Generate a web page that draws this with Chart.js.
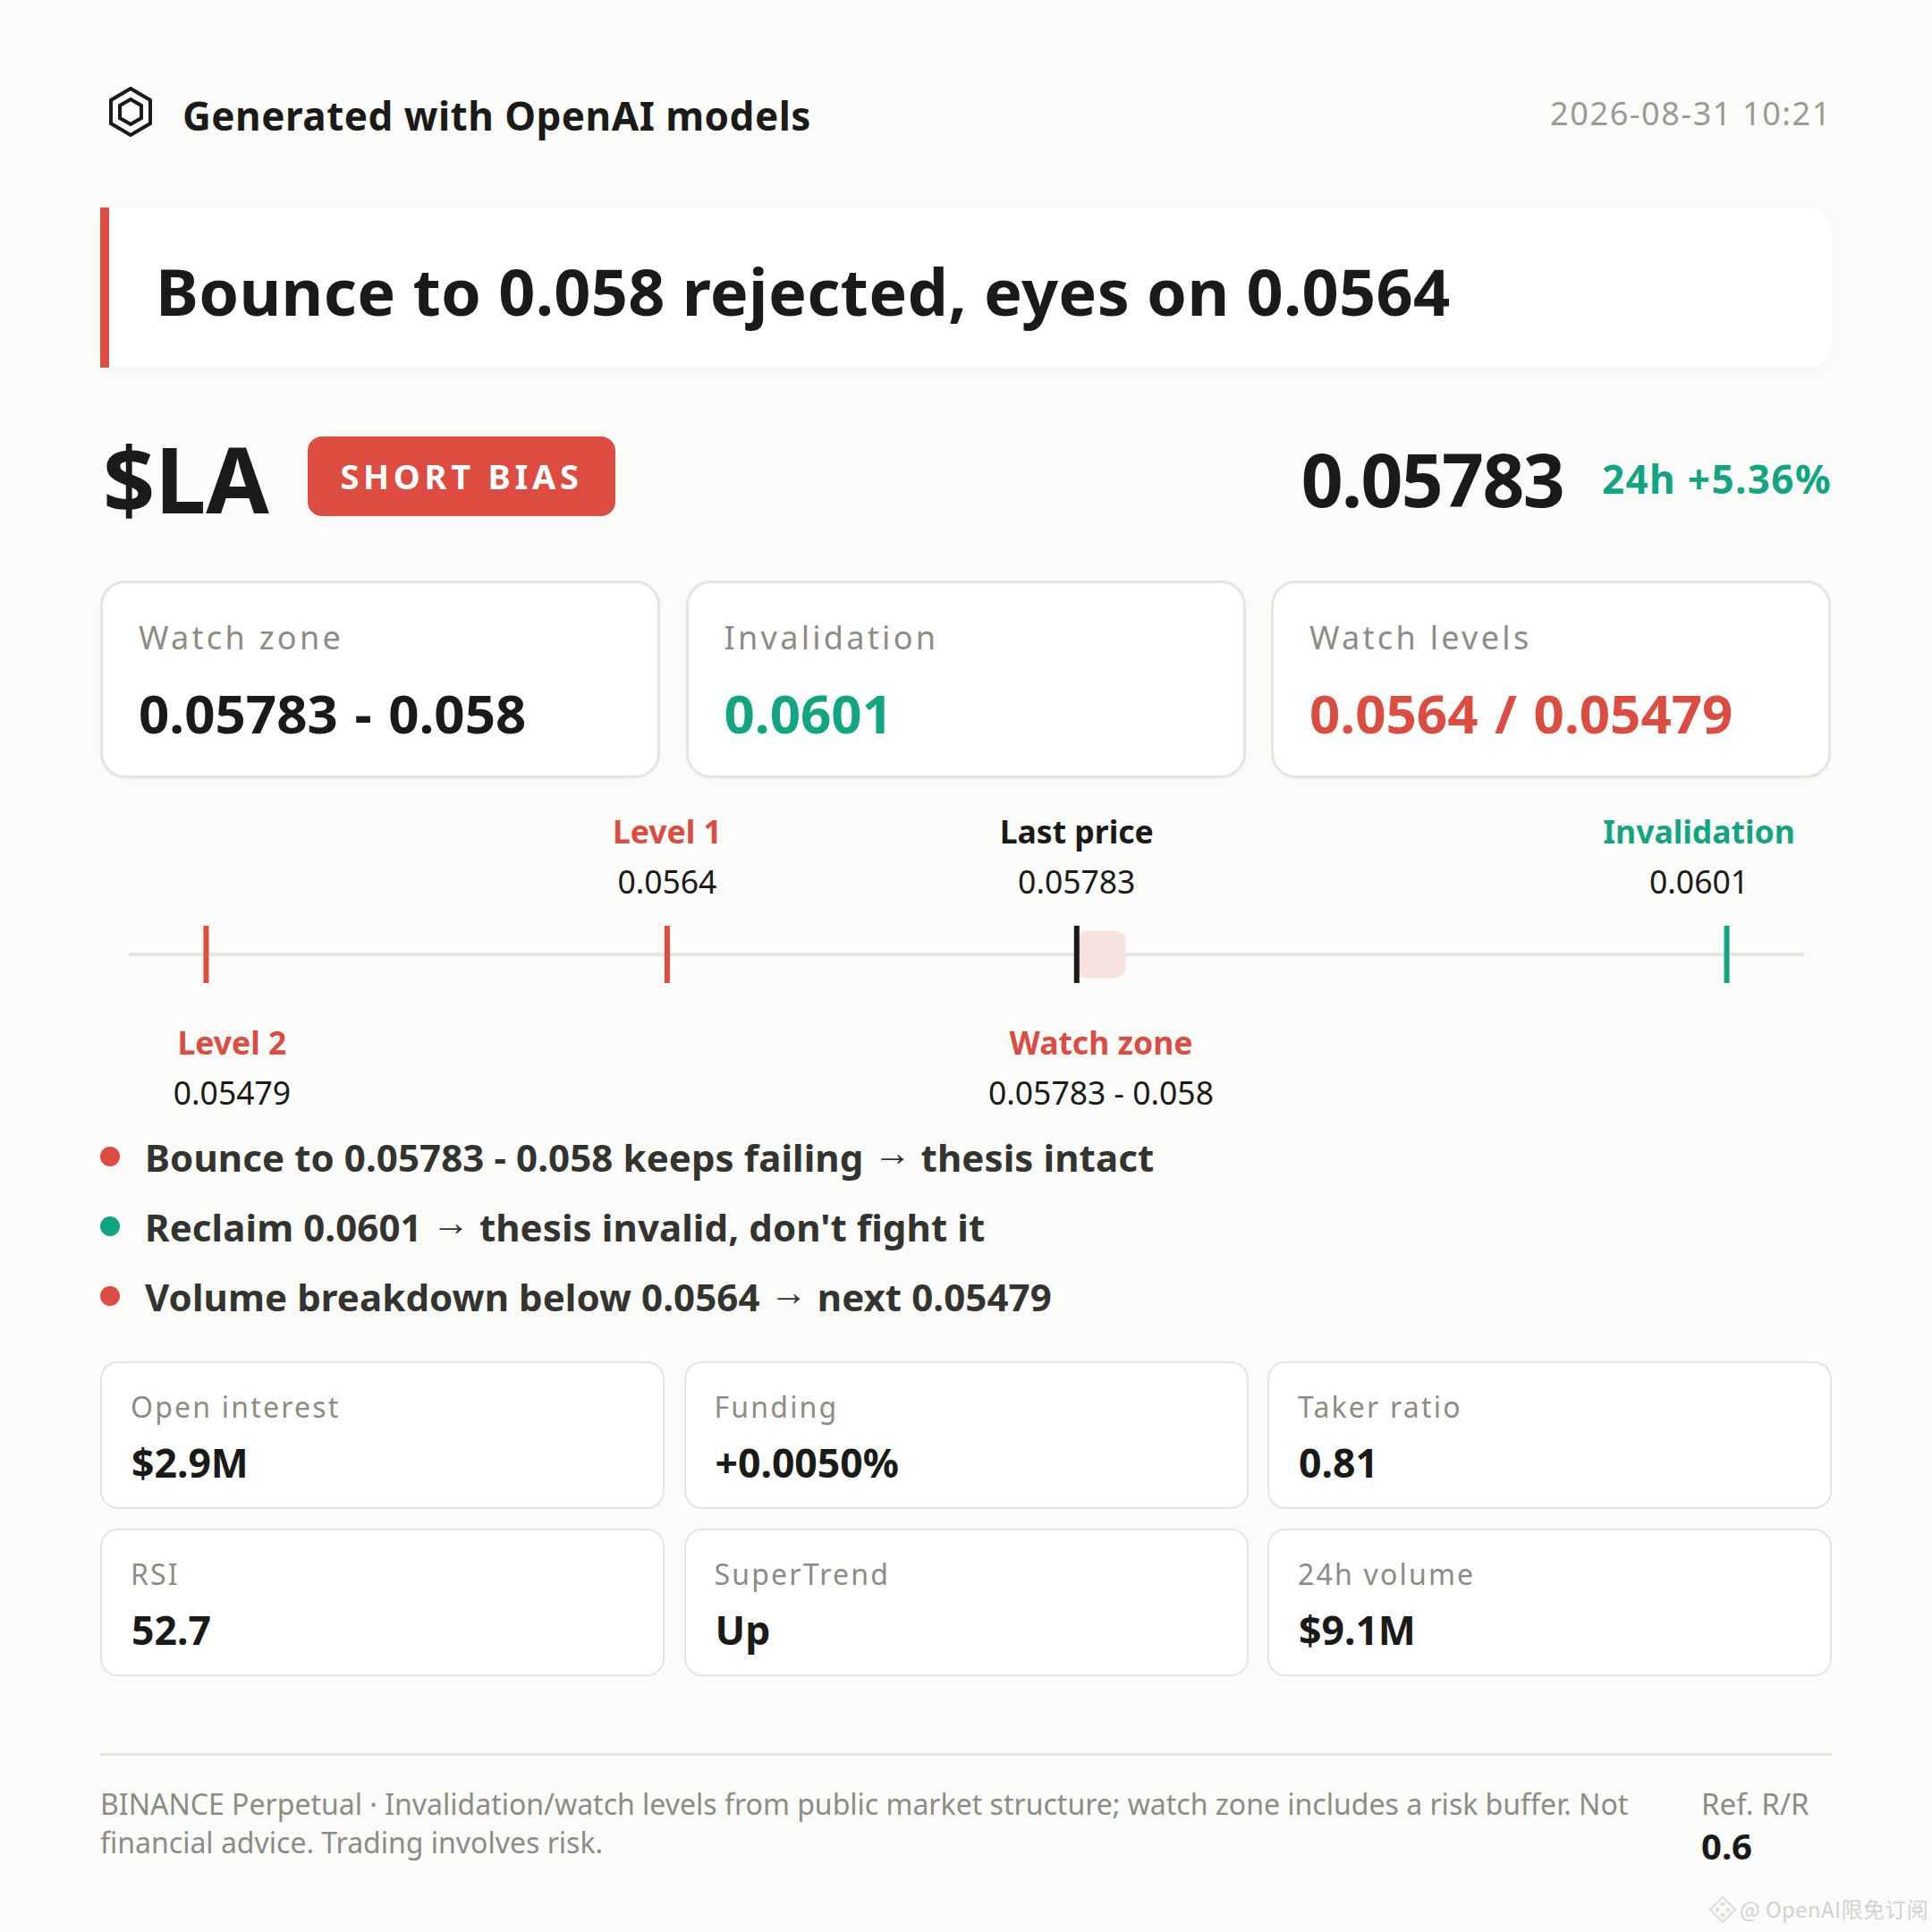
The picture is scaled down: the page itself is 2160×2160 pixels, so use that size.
<!DOCTYPE html>
<html>
<head>
<meta charset="utf-8">
<title>$LA short bias</title>
<script src="https://cdn.jsdelivr.net/npm/chart.js@4"></script>
<style>
    html, body { margin: 0; padding: 0; background: #fbfbf9; }
    body { width: 2160px; height: 2160px; position: relative; overflow: hidden; font-family: "Noto Sans", sans-serif; color: #1a1a18; }
    .abs { position: absolute; white-space: nowrap; }
    .b { font-weight: 700; }
    .card { position: absolute; box-sizing: border-box; background: #fff; }
    .big { width: 626px; height: 221px; top: 649px; border: 3px solid #e5e5e0; border-radius: 28px; box-shadow: 0 2px 8px rgba(0,0,0,.02); }
    .small { width: 631px; height: 165px; border: 2px solid #e5e5e0; border-radius: 20px; }
    .big .lab { position: absolute; left: 40px; top: 36px; line-height: 50px; font-size: 36px; letter-spacing: 3.3px; color: #8c8c85; white-space: nowrap; }
    .big .val { position: absolute; left: 40px; top: 100px; line-height: 90px; font-size: 60px; font-weight: 700; word-spacing: 3px; white-space: nowrap; }
    .small .lab { position: absolute; left: 32px; top: 27px; line-height: 44px; font-size: 32px; letter-spacing: 2.2px; color: #8c8c85; white-space: nowrap; }
    .small .val { position: absolute; left: 33px; top: 78px; line-height: 66px; font-size: 44.5px; font-weight: 700; white-space: nowrap; }
    .dot { position: absolute; left: 112px; width: 22px; height: 22px; border-radius: 50%; }
    .bullet { position: absolute; left: 162px; line-height: 60px; font-size: 42px; font-weight: 700; letter-spacing: .1px; color: #333330; white-space: nowrap; }
    .bullet .arr { position: relative; top: -7px; }
    .tag { position: absolute; text-align: center; transform: translateX(-50%); white-space: nowrap; font-size: 35.5px; line-height: 56px; }
    .tag .n { font-weight: 700; }
    #rulerWrap { position: absolute; left: 144px; top: 1020px; width: 1873px; height: 94px; }
</style>
</head>
<body>
<!-- header -->
<svg class="abs" style="left:120px;top:97px" width="52" height="56" viewBox="0 0 52 56">
    <path d="M26 2 L48 15 L48 41 L26 54 L4 41 L4 15 Z" fill="none" stroke="#1a1a18" stroke-width="4"/>
    <path d="M26 14 L38 21 L38 35 L26 42 L14 35 L14 21 Z" fill="none" stroke="#1a1a18" stroke-width="4"/>
</svg>
<div class="abs b" style="left:204px;top:99px;line-height:60px;font-size:44px;letter-spacing:.5px">Generated with OpenAI models</div>
<div class="abs" style="right:112px;top:100px;line-height:54px;font-size:36px;letter-spacing:1.6px;color:#9a9a93">2026-08-31 10:21</div>

<!-- headline -->
<div class="card" style="left:112px;top:232px;width:1936px;height:179px;border-left:10px solid #dc4c41;border-radius:0 28px 28px 0;box-shadow:0 4px 20px rgba(0,0,0,.03)"></div>
<div class="abs b" style="left:174px;top:275px;line-height:100px;font-size:72px;letter-spacing:.3px">Bounce to 0.058 rejected, eyes on 0.0564</div>

<!-- ticker row -->
<div class="abs b" style="left:115px;top:465px;line-height:140px;font-size:102px">$LA</div>
<div class="abs b" style="left:344px;top:488px;width:344px;height:89px;line-height:89px;background:#dc4c41;border-radius:16px;color:#fff;text-align:center;font-size:38px;letter-spacing:4.7px">SHORT BIAS</div>
<div class="abs b" style="right:412px;top:480px;line-height:110px;font-size:82px;letter-spacing:-1.6px">0.05783</div>
<div class="abs b" style="right:112px;top:505px;line-height:60px;font-size:44px;letter-spacing:1.4px;color:#12a582">24h +5.36%</div>

<div id="bigCards"></div>

<!-- price ruler -->
<div id="rulerWrap"><canvas id="ruler" width="1873" height="94"></canvas></div>
<div id="tags"></div>

<div id="bullets"></div>
<div id="metrics"></div>

<!-- footer -->
<div class="abs" style="left:112px;top:1960px;width:1936px;height:3px;background:#e5e5e0"></div>
<div class="abs" style="left:112px;top:1995px;line-height:43px;font-size:32px;color:#8c8c85">BINANCE Perpetual · Invalidation/watch levels from public market structure; watch zone includes a risk buffer. Not<br>financial advice. Trading involves risk.</div>
<div class="abs" style="left:1902px;top:1995px;line-height:43px;font-size:33px;color:#8c8c85">Ref. R/R</div>
<div class="abs b" style="left:1902px;top:2036px;line-height:56px;font-size:40px">0.6</div>
<div class="abs" style="left:1945px;top:2116px;line-height:36px;font-size:24px;letter-spacing:.4px;color:#d2d2ce;font-family:'Noto Sans CJK SC','Noto Sans',sans-serif">@ OpenAI限免订阅</div>
<svg class="abs" style="left:1911px;top:2120px" width="30" height="30" viewBox="0 0 30 30">
    <path d="M15 1 L29 15 L15 29 L1 15 Z" fill="none" stroke="#dcdcd8" stroke-width="2"/>
    <path d="M15 6 L18 9 L15 12 L12 9 Z M15 18 L18 21 L15 24 L12 21 Z M9 12 L12 15 L9 18 L6 15 Z M21 12 L24 15 L21 18 L18 15 Z" fill="#dcdcd8"/>
</svg>

<script>
const RED = '#dc4c41';
const GREEN = '#12a582';
const DARK = '#1a1a18';

// summary cards
const bigLabels = ['Watch zone', 'Invalidation', 'Watch levels'];
const bigValues = ['0.05783 - 0.058', '0.0601', '0.0564 / 0.05479'];
const bigColors = [DARK, GREEN, RED];

// price ruler
const markerNames = ['Level 2', 'Level 1', 'Last price', 'Invalidation'];
const markerValues = [0.05479, 0.0564, 0.05783, 0.0601];
const markerLabels = ['0.05479', '0.0564', '0.05783', '0.0601'];
const markerColors = [RED, RED, DARK, GREEN];
const watchZone = [0.05783, 0.058];
const watchZoneLabel = '0.05783 - 0.058';
const rulerRange = [0.05452, 0.06037];

// bullets
const bulletTexts = [
    'Bounce to 0.05783 - 0.058 keeps failing → thesis intact',
    'Reclaim 0.0601 → thesis invalid, don\'t fight it',
    'Volume breakdown below 0.0564 → next 0.05479'
];
const bulletColors = [RED, GREEN, RED];

// metric cards
const metricLabels = ['Open interest', 'Funding', 'Taker ratio', 'RSI', 'SuperTrend', '24h volume'];
const metricValues = ['$2.9M', '+0.0050%', '0.81', '52.7', 'Up', '$9.1M'];

let html = '';
bigLabels.forEach(function (label, i) {
    html += '<div class="card big" style="left:' + (112 + i * 654.5) + 'px"><div class="lab">' + label + '</div>' +
        '<div class="val" style="color:' + bigColors[i] + '">' + bigValues[i] + '</div></div>';
});
document.getElementById('bigCards').innerHTML = html;

html = '';
bulletTexts.forEach(function (text, i) {
    const top = 1264 + i * 78;
    html += '<div class="dot" style="top:' + (top + 18) + 'px;background:' + bulletColors[i] + '"></div>' +
        '<div class="bullet" style="top:' + top + 'px">' + text.replace('→', '<span class="arr">→</span>') + '</div>';
});
document.getElementById('bullets').innerHTML = html;

html = '';
metricLabels.forEach(function (label, i) {
    const col = i % 3, row = Math.floor(i / 3);
    html += '<div class="card small" style="left:' + (112 + col * 652.5) + 'px;top:' + (1522 + row * 187) + 'px">' +
        '<div class="lab">' + label + '</div><div class="val">' + metricValues[i] + '</div></div>';
});
document.getElementById('metrics').innerHTML = html;

const ruler = new Chart(document.getElementById('ruler'), {
    type: 'bar',
    data: {
        labels: ['ruler'],
        datasets: [
            {
                type: 'line',
                data: rulerRange.map(function (v) { return { x: v, y: 'ruler' }; }),
                borderColor: '#e5e5e0',
                borderWidth: 4,
                pointRadius: 0,
                clip: false,
                order: 3
            },
            {
                type: 'bar',
                data: [watchZone],
                backgroundColor: '#f6e2df',
                barThickness: 52,
                borderRadius: 12,
                borderSkipped: false,
                order: 2
            },
            {
                type: 'line',
                data: markerValues.map(function (v) { return { x: v, y: 'ruler' }; }),
                showLine: false,
                pointStyle: 'line',
                pointRotation: 90,
                pointRadius: 32,
                pointBorderWidth: 6,
                pointBorderColor: markerColors,
                clip: false,
                order: 1
            }
        ]
    },
    options: {
        indexAxis: 'y',
        responsive: false,
        animation: false,
        devicePixelRatio: 1,
        layout: { padding: 0, autoPadding: false },
        plugins: { legend: { display: false }, tooltip: { enabled: false } },
        scales: {
            x: { type: 'linear', display: false, min: rulerRange[0], max: rulerRange[1] },
            y: { type: 'category', display: false }
        }
    }
});

// labels above and below the ruler hang off the scale, end ones nudged inwards
const canvasLeft = 144;
const nudge = [29, 0, 0, -31];
const above = [false, true, true, true];
function addTag(name, value, color, x, top) {
    const el = document.createElement('div');
    el.className = 'tag';
    el.style.left = x + 'px';
    el.style.top = top + 'px';
    el.innerHTML = '<div class="n" style="color:' + color + '">' + name + '</div><div>' + value + '</div>';
    document.getElementById('tags').appendChild(el);
}
markerNames.forEach(function (name, i) {
    const x = canvasLeft + ruler.scales.x.getPixelForValue(markerValues[i]) + nudge[i];
    addTag(name, markerLabels[i], markerColors[i], x, above[i] ? 901 : 1137);
});
addTag('Watch zone', watchZoneLabel, RED,
    canvasLeft + ruler.scales.x.getPixelForValue((watchZone[0] + watchZone[1]) / 2), 1137);
</script>
</body>
</html>
